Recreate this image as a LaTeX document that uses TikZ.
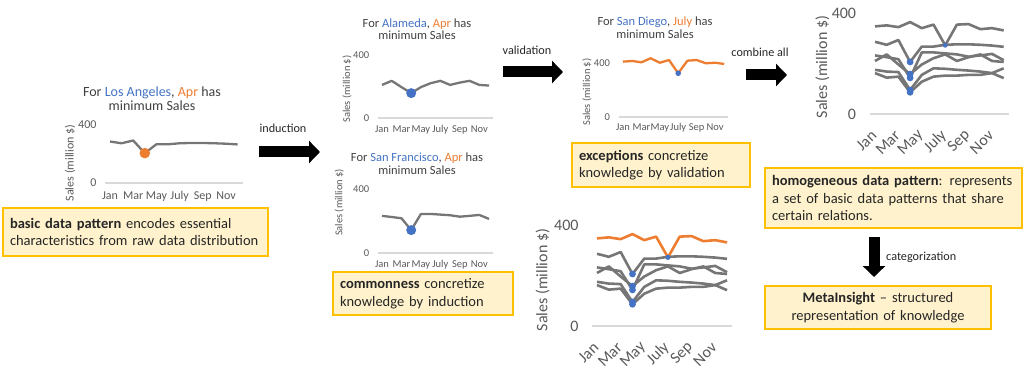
\documentclass[tikz,border=0pt]{standalone}
\usepackage{fontspec}
\setmainfont{Carlito}
\usetikzlibrary{arrows.meta, positioning}
\definecolor{inkdark}{HTML}{262626}
\definecolor{inktitle}{HTML}{404040}
\definecolor{inkaxis}{HTML}{595959}
\definecolor{inkgrid}{HTML}{D9D9D9}
\definecolor{inkline}{HTML}{767676}
\definecolor{inkblue}{HTML}{4472C4}
\definecolor{inkorange}{HTML}{ED7D31}
\definecolor{notefill}{HTML}{FFF2CC}
\definecolor{noteedge}{HTML}{FFC000}

\newcommand{\dataLA}{(0,286) -- (1,274) -- (2,293) -- (3,206) -- (4,267) -- (5,267) -- (6,274) -- (7,276) -- (8,276) -- (9,274) -- (10,271) -- (11,266)}
\newcommand{\dataAL}{(0,210) -- (1,236) -- (2,196) -- (3,158) -- (4,196) -- (5,221) -- (6,236) -- (7,210) -- (8,225) -- (9,236) -- (10,210) -- (11,206)}
\newcommand{\dataSF}{(0,232) -- (1,225) -- (2,217) -- (3,143) -- (4,244) -- (5,244) -- (6,240) -- (7,236) -- (8,227) -- (9,232) -- (10,238) -- (11,213)}
\newcommand{\dataSD}{(0,410) -- (1,415) -- (2,405) -- (3,435) -- (4,402) -- (5,422) -- (6,324) -- (7,417) -- (8,422) -- (9,398) -- (10,402) -- (11,393)}
\newcommand{\dataSDall}{(0,347) -- (1,351) -- (2,344) -- (3,364) -- (4,340) -- (5,354) -- (6,272) -- (7,354) -- (8,356) -- (9,336) -- (10,340) -- (11,331)}
\newcommand{\dataD}{(0,175) -- (1,168) -- (2,166) -- (3,95) -- (4,155) -- (5,181) -- (6,179) -- (7,175) -- (8,172) -- (9,168) -- (10,162) -- (11,181)}
\newcommand{\dataE}{(0,162) -- (1,144) -- (2,148) -- (3,86) -- (4,128) -- (5,148) -- (6,152) -- (7,152) -- (8,155) -- (9,155) -- (10,162) -- (11,142)}

\newcommand{\chartaxis}[3]{%
  \draw[gridline] (-0.45,0) -- (11.45,0);
  \node[ticklbl] at (#1,0) {0};
  \node[ticklbl] at (#1,400) {400};
  \node[ytitle] at (#2,#3) {Sales (million \$)};}
\newcommand{\flatmonths}[1]{%
  \foreach \m [count=\k from 0] in {Jan,Mar,May,July,Sep,Nov}
    \node[anchor=mid, inner sep=0pt, text=inkaxis] at (2*\k,0) [yshift=#1] {\m};}
\newcommand{\slantmonths}{%
  \foreach \m [count=\k from 0] in {Jan,Mar,May,July,Sep,Nov}
    \node[xshift=-1pt, yshift=-19pt, anchor=east, rotate=45, inner sep=0pt, text=inkaxis] at (2*\k,0) {\m};}

\tikzset{
  notebox/.style={draw=noteedge, line width=1.8pt, fill=notefill, text=inkdark,
    inner xsep=7pt, inner ysep=3pt, font=\fontsize{14.5}{17.5}\selectfont},
  salesline/.style={inkline, line width=2.3pt, line join=round},
  gridline/.style={inkgrid, line width=1.3pt},
  ticklbl/.style={anchor=east, inner sep=0pt, text=inkaxis},
  ytitle/.style={rotate=90, inner sep=0pt, text=inkaxis},
  charttitle/.style={align=center, text=inktitle, inner sep=0pt},
  bigarrow/.style={line width=11pt, -{Triangle[length=11pt, width=22pt]}},
  arrowlbl/.style={text=inkdark, inner sep=0pt, font=\fontsize{12.2}{14}\selectfont}
}

\begin{document}
\begin{tikzpicture}[x=1pt, y=-1pt]
  \useasboundingbox (0,0) rectangle (1024,374);

  \node[charttitle, font=\fontsize{14}{14}\selectfont] (ttl-la) at (152,99)
    {For \textcolor{inkblue}{Los Angeles}, \textcolor{inkorange}{Apr} has\\minimum Sales};
  \begin{scope}[shift={(110,183)}, x=11.6pt, y=0.145pt, font=\fontsize{12}{12}\selectfont]
    \chartaxis{-1.15}{-3.45}{138}
    \flatmonths{-14pt}
    \draw[salesline] \dataLA;
    \fill[inkorange] (3,206) circle[radius=5.3pt];
  \end{scope}

  \node[charttitle, font=\fontsize{12.5}{12.5}\selectfont] (ttl-al) at (417,29)
    {For \textcolor{inkblue}{Alameda}, \textcolor{inkorange}{Apr} has\\minimum Sales};
  \begin{scope}[shift={(382,118)}, x=9.73pt, y=0.1575pt, font=\fontsize{10.5}{10.5}\selectfont]
    \chartaxis{-1.3}{-3.6}{184}
    \flatmonths{-12pt}
    \draw[salesline] \dataAL;
    \fill[inkblue] (3,158) circle[radius=5pt];
  \end{scope}

  \node[charttitle, font=\fontsize{12.5}{12.5}\selectfont] (ttl-sf) at (417,163.5)
    {For \textcolor{inkblue}{San Francisco}, \textcolor{inkorange}{Apr} has\\minimum Sales};
  \begin{scope}[shift={(382,253)}, x=9.73pt, y=0.16pt, font=\fontsize{10.5}{10.5}\selectfont]
    \chartaxis{-1.3}{-4.4}{316}
    \flatmonths{-12pt}
    \draw[salesline] \dataSF;
    \fill[inkblue] (3,143) circle[radius=5pt];
  \end{scope}

  \node[charttitle, font=\fontsize{12.5}{12.5}\selectfont] (ttl-sd) at (655,27.5)
    {For \textcolor{inkblue}{San Diego}, \textcolor{inkorange}{July} has\\minimum Sales};
  \begin{scope}[shift={(623,117)}, x=9.2pt, y=0.135pt, font=\fontsize{10.5}{10.5}\selectfont]
    \chartaxis{-1.4}{-3.9}{185}
    \flatmonths{-11pt}
    \draw[salesline, inkorange] \dataSD;
    \fill[inkblue] (6,324) circle[radius=2.8pt];
  \end{scope}

  \begin{scope}[shift={(875,114)}, x=11.7pt, y=0.2525pt, font=\fontsize{16}{16}\selectfont,
      salesline/.append style={line width=2.6pt}]
    \chartaxis{-1.6}{-4.5}{186}
    \slantmonths
    \foreach \d in {\dataE,\dataD,\dataSF,\dataAL,\dataLA,\dataSDall}
      \draw[salesline] \d;
    \foreach \v in {206,158,143,95,86}
      \fill[inkblue] (3,\v) circle[radius=3.4pt];
    \fill[inkblue] (6,272) circle[radius=2.4pt];
  \end{scope}

  \begin{scope}[shift={(597,326)}, x=11.82pt, y=0.2525pt, font=\fontsize{16}{16}\selectfont,
      salesline/.append style={line width=2.6pt}]
    \chartaxis{-1.55}{-4.6}{182}
    \slantmonths
    \foreach \d in {\dataE,\dataD,\dataSF,\dataAL,\dataLA}
      \draw[salesline] \d;
    \draw[salesline, inkorange] \dataSDall;
    \foreach \v in {206,158,143,95,86}
      \fill[inkblue] (3,\v) circle[radius=3.4pt];
    \fill[inkblue] (6,272) circle[radius=2.6pt];
  \end{scope}

  \node[notebox, text width=251pt, minimum height=48pt, align=left] (basic) at (135.5,232)
    {\textbf{basic data pattern} encodes essential\\characteristics from raw data distribution};
  \node[notebox, text width=166pt, minimum height=43pt, align=left] (common) at (423,293.5)
    {\textbf{commonness} concretize\\knowledge by induction};
  \node[notebox, text width=164pt, minimum height=44pt, align=left] (except) at (661,165)
    {\textbf{exceptions} concretize\\knowledge by validation};
  \node[notebox, text width=243pt, minimum height=60pt, align=left] (homog) at (893.5,198)
    {\textbf{homogeneous data pattern}: represents\\a set of basic data patterns that share\\certain relations.};
  \node[notebox, text width=212pt, minimum height=43pt, align=center] (meta) at (878,307.5)
    {\textbf{MetaInsight} -- structured\\representation of knowledge};

  \coordinate (ind-a) at (259,152);
  \coordinate (ind-b) at (320,152);
  \coordinate (val-a) at (503,72);
  \coordinate (val-b) at (563,72);
  \coordinate (comb-a) at (746,75);
  \coordinate (comb-b) at (787,75);
  \coordinate (cat-a) at (874,237);
  \coordinate (cat-b) at (874,277);
  \draw[bigarrow] (ind-a) -- (ind-b);
  \draw[bigarrow] (val-a) -- (val-b);
  \draw[bigarrow] (comb-a) -- (comb-b);
  \draw[bigarrow] (cat-a) -- (cat-b);
  \node[arrowlbl] (ind-lbl) at (283,128) {induction};
  \node[arrowlbl] (val-lbl) at (527,50) {validation};
  \node[arrowlbl] (comb-lbl) at (760,52) {combine all};
  \node[arrowlbl, anchor=west] (cat-lbl) at (886,257) {categorization};
\end{tikzpicture}
\end{document}
